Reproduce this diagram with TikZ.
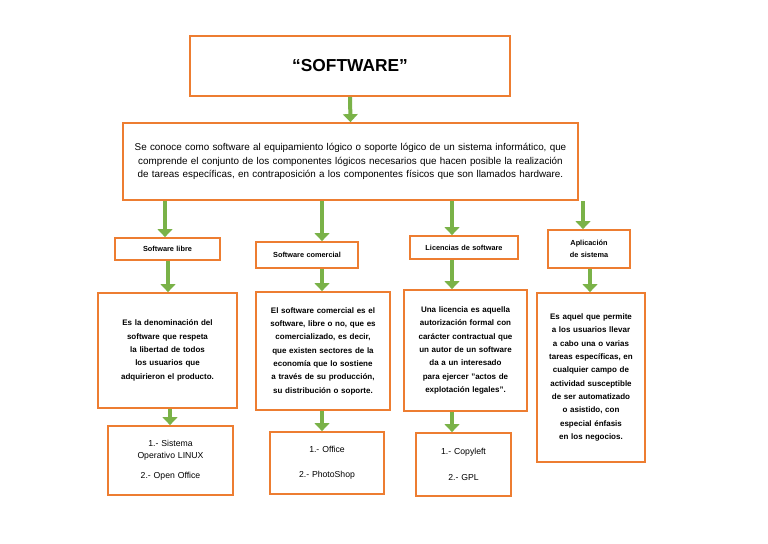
\documentclass[tikz,border=0pt]{standalone}
\usepackage{fontspec}
\setmainfont{Liberation Sans}
\usetikzlibrary{arrows.meta}
\definecolor{ob}{RGB}{237,125,49}
\definecolor{ga}{RGB}{122,178,72}
\tikzset{
 bx/.style={draw=ob,line width=1.3pt,fill=white,align=center,inner sep=2pt},
 ar/.style={draw=ga,line width=3pt,-{Triangle[length=6pt,width=11pt]}},
}
\newcommand{\bxat}[7]{\node[bx,minimum width=#3*0.75pt-#1*0.75pt,minimum height=#4*0.75pt-#2*0.75pt,text width=#7pt,font=\hyphenpenalty10000\exhyphenpenalty10000#6] (#5) at ({(#1+#3)/2},{(#2+#4)/2}) }
\begin{document}
\begin{tikzpicture}[x=0.75pt,y=-0.75pt]
\useasboundingbox (0,0) rectangle (768,543);
\bxat{190}{36}{510}{96}{t}{\bfseries\fontsize{13}{15}\selectfont}{230}{“SOFTWARE”};
\bxat{123}{123}{578}{200}{d}{\fontsize{7.4}{10.2}\selectfont}{335}{Se conoce como software al equipamiento lógico o soporte lógico de un sistema informático, que comprende el conjunto de los componentes lógicos necesarios que hacen posible la realización de tareas específicas, en contraposición a los componentes físicos que son llamados hardware.};
\bxat{115}{238}{220}{260}{c1}{\bfseries\fontsize{5.5}{7}\selectfont}{72}{Software libre};
\bxat{256}{242}{358}{268}{c2}{\bfseries\fontsize{5.5}{7}\selectfont}{70}{Software comercial};
\bxat{410}{236}{518}{259}{c3}{\bfseries\fontsize{5.5}{7}\selectfont}{75}{Licencias de software};
\bxat{548}{230}{630}{268}{c4}{\bfseries\fontsize{5.5}{9}\selectfont}{58}{Aplicación de sistema};
\bxat{98}{293}{237}{408}{e1}{\bfseries\fontsize{6}{10}\selectfont}{84}{Es la denominación del software que respeta la libertad de todos los usuarios que adquirieron el producto.};
\bxat{256}{292}{390}{410}{e2}{\bfseries\fontsize{6}{10}\selectfont}{92}{El software comercial es el software, libre o no, que es comercializado, es decir, que existen sectores de la economía que lo sostiene a través de su producción, su distribución o soporte.};
\bxat{404}{290}{527}{411}{e3}{\bfseries\fontsize{6}{10}\selectfont}{87}{Una licencia es aquella autorización formal con carácter contractual que un autor de un software da a un interesado para ejercer "actos de explotación legales".};
\bxat{537}{293}{645}{462}{e4}{\bfseries\fontsize{6}{10}\selectfont}{64}{Es aquel que permite a los usuarios llevar a cabo una o varias tareas específicas, en cualquier campo de actividad susceptible de ser automatizado o asistido, con especial énfasis en los negocios.};
\bxat{108}{426}{233}{495}{x1}{\fontsize{6.5}{9}\selectfont}{85}{1.- Sistema\\Operativo LINUX\\[6pt]2.- Open Office};
\bxat{270}{432}{384}{494}{x2}{\fontsize{6.5}{9}\selectfont}{78}{1.- Office\\[10pt]2.- PhotoShop};
\bxat{416}{433}{511}{496}{x3}{\fontsize{6.5}{9}\selectfont}{65}{1.- Copyleft\\[10pt]2.- GPL};
\draw[ar] (t.south) -- (d.north);
\draw[ar] (d.south -| 165,0) -- (c1.north -| 165,0);
\draw[ar] (d.south -| 322,0) -- (c2.north -| 322,0);
\draw[ar] (d.south -| 452,0) -- (c3.north -| 452,0);
\draw[ar] (d.south -| 583,0) -- (c4.north -| 583,0);
\draw[ar] (c1.south -| 168,0) -- (e1.north -| 168,0);
\draw[ar] (c2.south -| 322,0) -- (e2.north -| 322,0);
\draw[ar] (c3.south -| 452,0) -- (e3.north -| 452,0);
\draw[ar] (c4.south -| 590,0) -- (e4.north -| 590,0);
\draw[ar] (e1.south -| 170,0) -- (x1.north -| 170,0);
\draw[ar] (e2.south -| 322,0) -- (x2.north -| 322,0);
\draw[ar] (e3.south -| 452,0) -- (x3.north -| 452,0);
\end{tikzpicture}
\end{document}
